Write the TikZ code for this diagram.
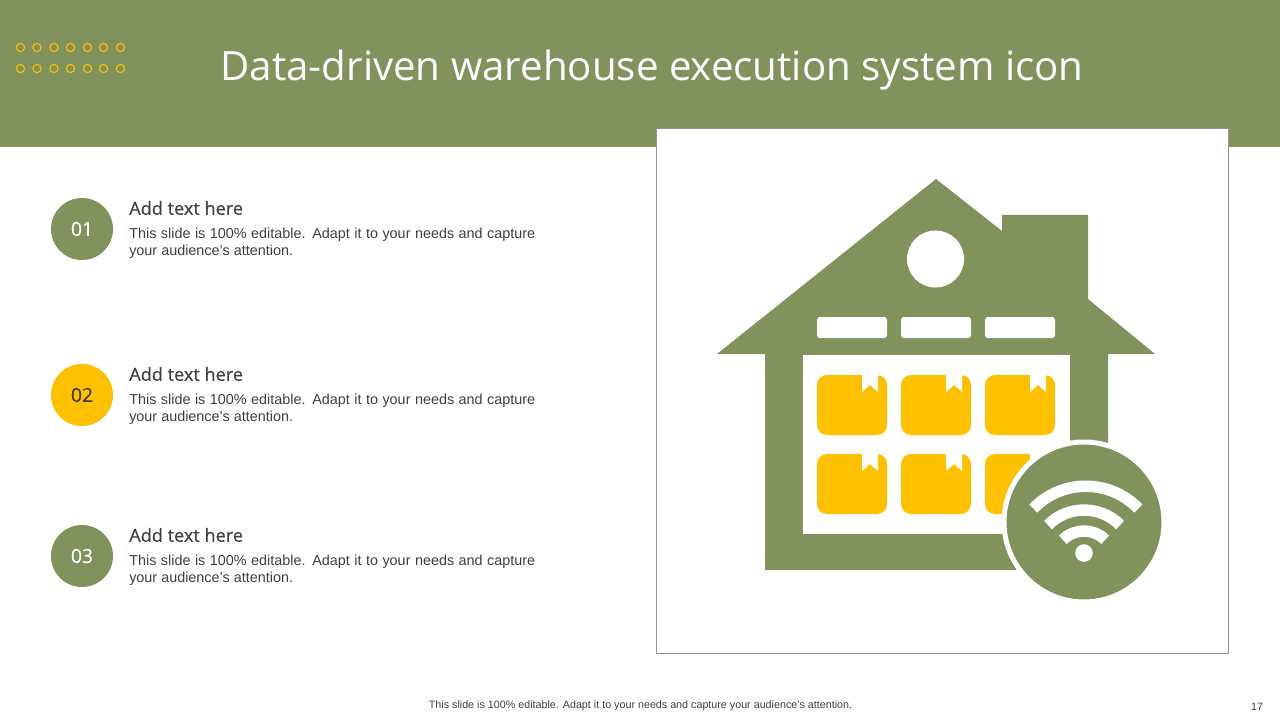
\documentclass[tikz,border=0pt]{standalone}
\usepackage{fontspec}
\setmainfont{Liberation Sans}
\newfontfamily\headfont{Open Sans}
\newfontfamily\headmed[FakeBold=0.35]{Open Sans}
\definecolor{olive}{HTML}{82925C}
\definecolor{amber}{HTML}{FFC000}
\definecolor{ink}{HTML}{404040}
\tikzset{
  numdisc/.style={circle,minimum size=46.5pt,inner sep=0pt,font=\headmed\fontsize{14.5}{16}\selectfont},
  headtxt/.style={anchor=west,inner sep=0pt,text=ink,font=\headmed\fontsize{13.6}{16}\selectfont},
  bodytxt/.style={anchor=north west,inner sep=0pt,text=ink,text width=304.5pt,align=justify,font=\fontsize{10.8}{12.75}\selectfont},
  dotring/.style={draw=amber,line width=.8pt,circle,minimum size=6.2pt,inner sep=0pt},
  whitebar/.style={fill=white,rounded corners=2.2pt},
  wifiband/.style={draw=white,line width=8.6pt},
  crate/.style={fill=amber,rounded corners=7.5pt}
}
\begin{document}
\begin{tikzpicture}[x=.75pt,y=-.75pt]
\useasboundingbox (0,0) rectangle (1280,720);
\fill[white] (0,0) rectangle (1280,720);
\fill[olive] (0,0) rectangle (1280,147);
% decorative dots
\foreach \r/\yy in {a/47.5,b/68.5}
  \foreach \i/\xx in {1/20.5,2/37,3/54,4/70.5,5/87.5,6/103.5,7/120.5}
    \node[dotring] (dot\r\i) at (\xx,\yy) {};
\node[text=white,inner sep=0pt,font=\headfont\fontsize{30.2}{36}\selectfont] (title) at (652,70.5) {Data-driven warehouse execution system icon};
% panel
\draw[draw=gray!85,fill=white,line width=.75pt] (656.5,128.5) rectangle (1228.5,653.5);
% left list
\node[numdisc,fill=olive,text=white] (n1) at (82,229) {01};
\node[numdisc,fill=amber,text=ink] (n2) at (82,395) {02};
\node[numdisc,fill=olive,text=white] (n3) at (82,556) {03};
\foreach \k/\yy in {1/208,2/374,3/535}{
  \node[headtxt] (h\k) at (129,\yy) {Add text here};
  \node[bodytxt] (b\k) at (129,\yy+19.5) {This slide is 100\% editable. Adapt it to your needs and capture your audience's attention.};
}
% house
\fill[olive] (936,179) -- (1002,231) -- (1002,215) -- (1088,215) -- (1088,299) -- (1155,354) -- (1108,354) -- (1108,570) -- (765,570) -- (765,354) -- (717,354) -- cycle;
\fill[white] (803,355) rectangle (1070,534);
\fill[white] (935.5,259) circle[radius=21.4pt];
\foreach \xx in {817,901,985}{
  \fill[whitebar] (\xx,317) rectangle (\xx+70,338);
  \foreach \yy in {375,454}{
    \fill[crate] (\xx,\yy) rectangle (\xx+70,\yy+60);
    \fill[white] (\xx+45,\yy-1) -- (\xx+61,\yy-1) -- (\xx+61,\yy+17) -- (\xx+53,\yy+10) -- (\xx+45,\yy+17) -- cycle;
  }
}
% wifi badge
\node[circle,fill=olive,draw=white,line width=3.75pt,minimum size=120pt,inner sep=0pt] (badge) at (1084,522) {};
\draw[wifiband] (1033.3,508.5) arc[start angle=136,end angle=44,radius=54.75pt];
\draw[wifiband] (1048,525) arc[start angle=135,end angle=45,radius=38.25pt];
\draw[wifiband] (1062.8,539.8) arc[start angle=135,end angle=45,radius=22.5pt];
\fill[white] (1084,553) circle[radius=6.6pt];
% footer
\node[inner sep=0pt,text=ink,font=\fontsize{8.05}{9}\selectfont] (foot) at (640.5,706) {This slide is 100\% editable. Adapt it to your needs and capture your audience's attention.};
\node[inner sep=0pt,text=ink,font=\fontsize{8}{9}\selectfont] (page) at (1257,707) {17};
\end{tikzpicture}
\end{document}
